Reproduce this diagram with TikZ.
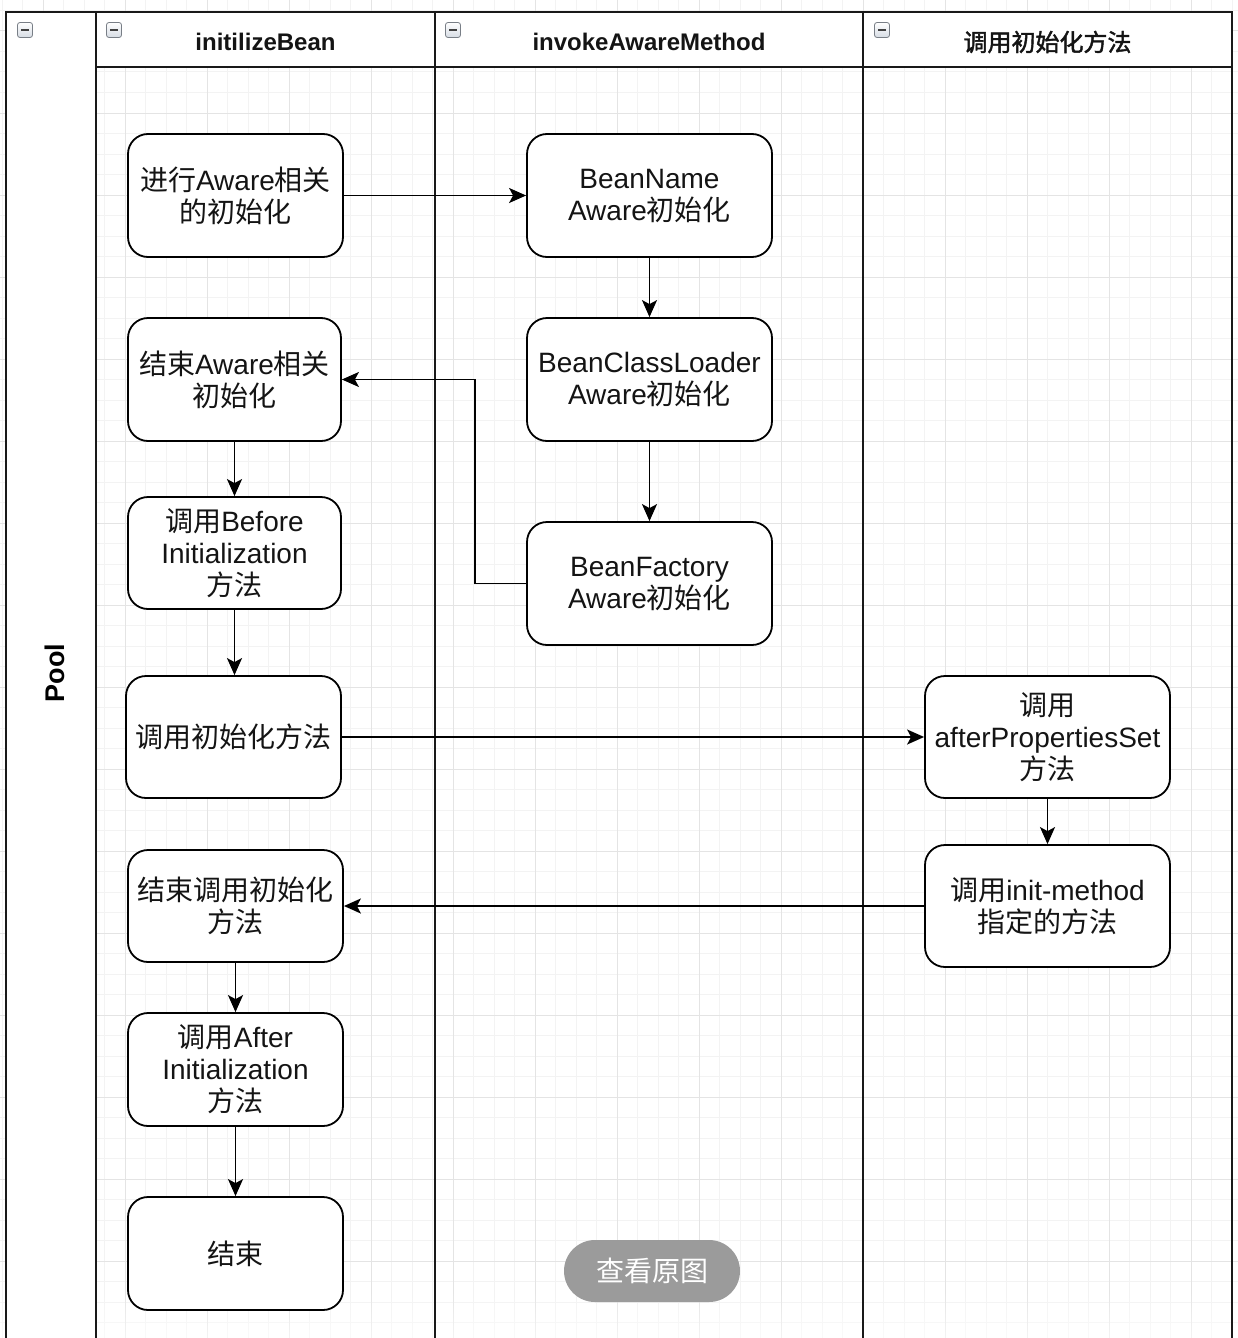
\documentclass[tikz,border=0pt]{standalone}
\usepackage{fontspec}
\setmainfont{Liberation Sans}
\newfontfamily\cjk{Noto Sans CJK SC}
\newfontfamily\cjkhdr[FakeBold=1.8]{Noto Sans CJK SC}
\newcommand\zh[1]{{\cjk #1}}
\usetikzlibrary{arrows.meta}
\definecolor{gridminor}{RGB}{243,243,243}
\definecolor{gridmajor}{RGB}{228,228,228}
\definecolor{btngray}{RGB}{155,155,155}
\definecolor{iconfill}{RGB}{214,220,228}
\definecolor{iconline}{RGB}{120,126,134}
\begin{document}
\begin{tikzpicture}[x=1pt,y=-1pt,
  box/.style={draw=black, line width=1.8pt, fill=white, rounded corners=20pt,
    align=center, inner sep=0pt, text=black!92,
    font=\fontsize{28}{32}\selectfont},
  arr/.style={line width=1.8pt, draw=black,
    -{Stealth[length=17pt,width=15pt,inset=4pt]}},
  lane/.style={line width=2pt, draw=black!90},
  hdr/.style={font=\bfseries\fontsize{24}{28}\selectfont, text=black!92},
  icon/.style={draw=iconline, line width=0.8pt, top color=white, bottom color=iconfill,
    rounded corners=2.5pt, minimum width=15pt, minimum height=15pt, inner sep=0pt}
]
% canvas
\useasboundingbox (0,0) rectangle (1238,1338);
\fill[white] (0,0) rectangle (1238,1338);
% grid
\foreach \x in {2,22.5,...,1238} \draw[gridminor, line width=1pt] (\x,0) -- (\x,1338);
\foreach \y in {10.5,31,...,1338} \draw[gridminor, line width=1pt] (0,\y) -- (1238,\y);
\foreach \x in {43,125,...,1238} \draw[gridmajor, line width=1pt] (\x,0) -- (\x,1338);
\foreach \y in {31,113,...,1338} \draw[gridmajor, line width=1pt] (0,\y) -- (1238,\y);
% white areas of the pool (pool column and header row)
\fill[white] (6,12) rectangle (96,1338);
\fill[white] (96,12) rectangle (1232,67);
% bottom fade
\foreach \i [evaluate=\i as \op using \i/40] in {0,...,23}
  \fill[white, opacity=\op] (0,1290+2*\i) rectangle (1238,1292+2*\i);
% pool and lanes
\draw[lane] (6,1338) -- (6,12) -- (1232,12) -- (1232,1338);
\draw[lane] (96,12) -- (96,1338);
\draw[lane] (435,12) -- (435,1338);
\draw[lane] (863,12) -- (863,1338);
\draw[lane] (96,67) -- (1232,67);
% collapse icons
\foreach \p/\nm in {25/i1,114/i2,453/i3,882/i4}{
  \node[icon] (\nm) at (\p,30) {};
  \draw[black!75, line width=1.6pt] ([xshift=-4pt]\nm.center) -- ([xshift=4pt]\nm.center);
}
% headings
\node[rotate=90, font=\bfseries\fontsize{27}{30}\selectfont] (pool) at (55,673) {Pool};
\node[hdr] (h1) at (265.5,42) {initilizeBean};
\node[hdr] (h2) at (649,42) {invokeAwareMethod};
\node[hdr] (h3) at (1047.5,42) {\cjkhdr\mdseries 调用初始化方法};
% boxes
\node[box, minimum width=215pt, minimum height=123pt] (n1) at (235.5,195.5)
  {\zh{进行}Aware\zh{相关}\\\zh{的初始化}};
\node[box, minimum width=245pt, minimum height=123pt] (n2) at (649.5,195.5)
  {BeanName\\Aware\zh{初始化}};
\node[box, minimum width=213pt, minimum height=123pt] (n3) at (234.5,379.5)
  {\zh{结束}Aware\zh{相关}\\\zh{初始化}};
\node[box, minimum width=245pt, minimum height=123pt] (n4) at (649.5,379.5)
  {BeanClassLoader\\Aware\zh{初始化}};
\node[box, minimum width=213pt, minimum height=112pt] (n5) at (234.5,553)
  {\zh{调用}Before\\Initialization\\\zh{方法}};
\node[box, minimum width=245pt, minimum height=123pt] (n6) at (649.5,583.5)
  {BeanFactory\\Aware\zh{初始化}};
\node[box, minimum width=215pt, minimum height=122pt] (n7) at (233.5,737)
  {\zh{调用初始化方法}};
\node[box, minimum width=245pt, minimum height=122pt] (n8) at (1047.5,737)
  {\zh{调用}\\afterPropertiesSet\\\zh{方法}};
\node[box, minimum width=215pt, minimum height=112pt] (n9) at (235.5,906)
  {\zh{结束调用初始化}\\\zh{方法}};
\node[box, minimum width=245pt, minimum height=122pt] (n10) at (1047.5,906)
  {\zh{调用}init-method\\\zh{指定的方法}};
\node[box, minimum width=215pt, minimum height=113pt] (n11) at (235.5,1069.5)
  {\zh{调用}After\\Initialization\\\zh{方法}};
\node[box, minimum width=215pt, minimum height=113pt] (n12) at (235.5,1253.5)
  {\zh{结束}};
% connectors
\draw[arr] (n1.east) -- (n2.west);
\draw[arr] (n2.south) -- (n4.north);
\draw[arr] (n4.south) -- (n6.north);
\draw[arr] (n6.west) -- ++(-51,0) |- (n3.east);
\draw[arr] (n3.south) -- (n5.north);
\draw[arr] (n5.south) -- (n5.south |- n7.north);
\draw[arr] (n7.east) -- (n8.west);
\draw[arr] (n8.south) -- (n10.north);
\draw[arr] (n10.west) -- (n9.east);
\draw[arr] (n9.south) -- (n11.north);
\draw[arr] (n11.south) -- (n12.north);
% overlay button
\node[fill=btngray, rounded corners=31pt, minimum width=176pt, minimum height=62pt,
  inner sep=0pt, text=white, font=\cjk\fontsize{28}{32}\selectfont] (btn) at (652,1271) {查看原图};
\end{tikzpicture}
\end{document}
